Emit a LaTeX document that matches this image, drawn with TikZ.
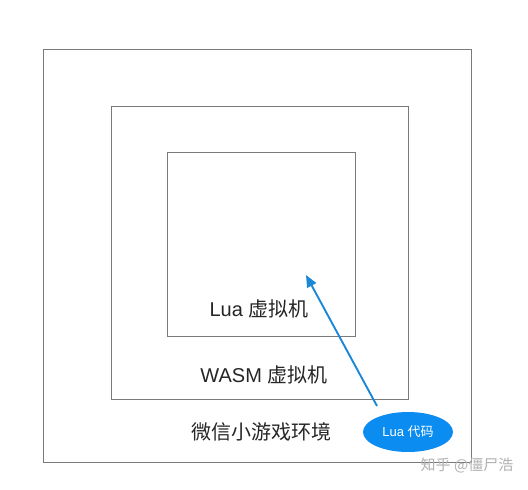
\documentclass[tikz,border=0pt]{standalone}
\usepackage{fontspec}
\setmainfont{Liberation Sans}
\newfontfamily\cjk{Noto Sans CJK SC}
\usetikzlibrary{shapes.geometric,arrows.meta}
\definecolor{boxgray}{HTML}{7A7A7A}
\definecolor{codeblue}{HTML}{0A8CF0}
\definecolor{arrowblue}{HTML}{1A88D6}
\tikzset{
  frame/.style={draw=boxgray, line width=0.9pt},
  lbl/.style={font=\fontsize{20}{22}\selectfont, text=black!85, inner sep=0pt},
}
\begin{document}
\begin{tikzpicture}[x=1pt,y=-1pt]
\useasboundingbox[fill=white] (0,0) rectangle (528,490);
\draw[frame] (43,49) rectangle (471,462);
\draw[frame] (111,106) rectangle (408,399);
\draw[frame] (167,152) rectangle (355,336);
\node[lbl] (lua) at (259,309) {Lua {\cjk 虚拟机}};
\node[lbl] (wasm) at (264,375) {WASM {\cjk 虚拟机}};
\node[lbl] (env) at (261,432) {\cjk 微信小游戏环境};
\node[ellipse, fill=codeblue, minimum width=90pt, minimum height=40pt, inner sep=0pt,
      text=white, font=\fontsize{13}{15}\selectfont] (code) at (408,432) {Lua {\cjk 代码}};
\coordinate (tip) at (306,275);
\coordinate (start) at (377,406);
\draw[arrowblue, line width=1.9pt, -{Triangle[length=12pt,width=10pt]}] (start) -- (tip);
\node[inner sep=0pt, text=black!30, font=\fontsize{15}{17}\selectfont] (wm) at (467,465) {\cjk 知乎 @僵尸浩};
\end{tikzpicture}
\end{document}
